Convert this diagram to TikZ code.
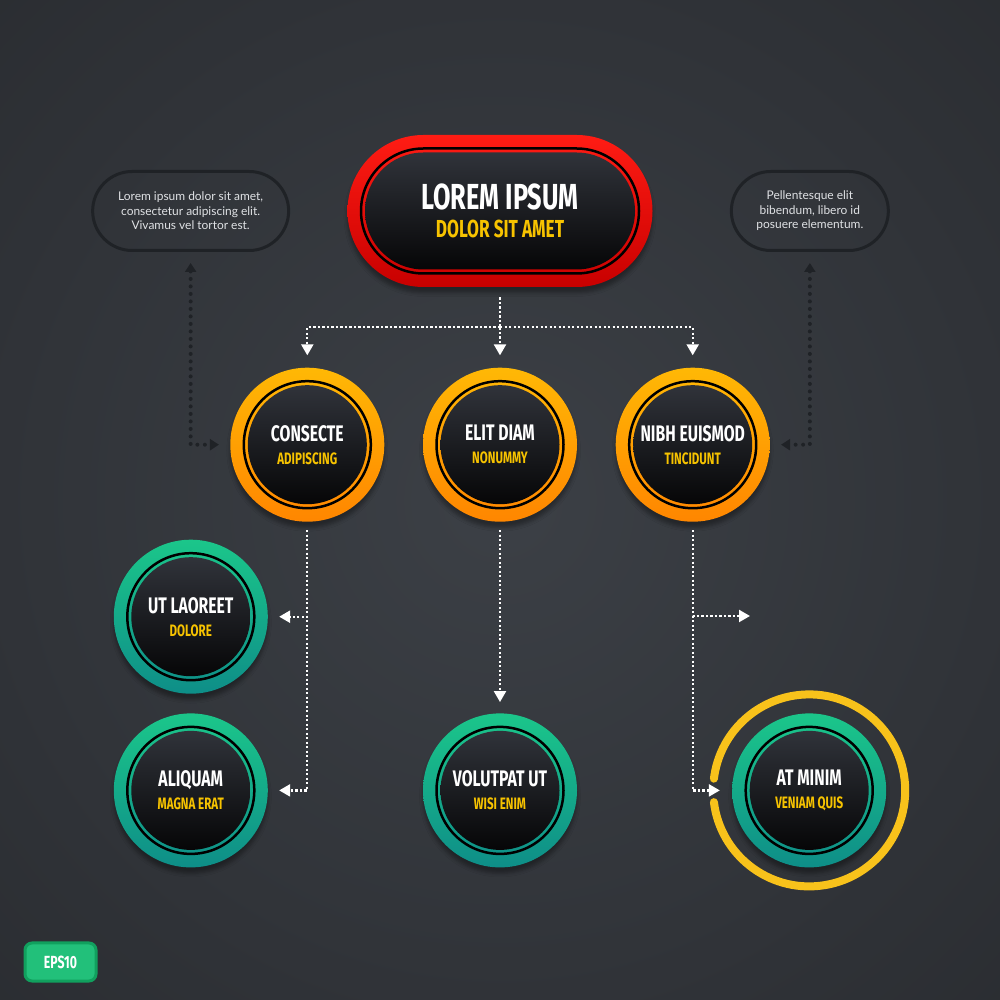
\documentclass[tikz,border=0pt]{standalone}
\usepackage{fontspec}
\setmainfont{Lato}
\newfontfamily\capsfont[FakeStretch=0.7]{Fira Sans}
\usetikzlibrary{positioning,arrows.meta,shadows.blur}

\definecolor{bgin}{HTML}{3C4046}
\definecolor{bgout}{HTML}{24262A}
\definecolor{redtop}{HTML}{FF1C14}
\definecolor{redbot}{HTML}{C80000}
\definecolor{orangetop}{HTML}{FFB805}
\definecolor{orangebot}{HTML}{FF8600}
\definecolor{greentop}{HTML}{1BC68A}
\definecolor{greenbot}{HTML}{0E8E88}
\definecolor{coretop}{HTML}{30333A}
\definecolor{corebot}{HTML}{060607}
\definecolor{gold}{HTML}{F7C300}
\definecolor{ringgold}{HTML}{F8C21B}
\definecolor{notetext}{HTML}{E0E2E5}
\definecolor{noteline}{HTML}{1F2226}
\definecolor{epsgreen}{HTML}{22C07A}
\definecolor{epsedge}{HTML}{11A05E}

\pgfdeclareradialshading{backdrop}{\pgfpoint{0bp}{0bp}}{color(0bp)=(bgin); color(50bp)=(bgout)}

\newcommand{\tagline}[1]{{\color{gold}\fontsize{9.4}{13.1}\selectfont #1}}

\begin{document}
\begin{tikzpicture}[
    chief node/.style={rectangle, rounded corners=15.2mm, minimum width=61mm,
        minimum height=30.4mm, inner sep=0pt, top color=redtop, bottom color=redbot,
        text=white, align=center, font=\capsfont\bfseries\fontsize{20.6}{16}\selectfont,
        blur shadow={shadow xshift=0mm, shadow yshift=-1.2mm, shadow opacity=35},
        path picture={
          \draw[line width=0.5mm, rounded corners=12.5mm]
            ([shift={(2.7mm,2.7mm)}]path picture bounding box.south west) rectangle
            ([shift={(-2.7mm,-2.7mm)}]path picture bounding box.north east);
          \shade[top color=coretop, bottom color=corebot, rounded corners=11.7mm]
            ([shift={(3.5mm,3.5mm)}]path picture bounding box.south west) rectangle
            ([shift={(-3.5mm,-3.5mm)}]path picture bounding box.north east);
        }},
    disc/.style 2 args={circle, minimum size=30.8mm, inner sep=0pt,
        top color=#1, bottom color=#2, text=white, align=center,
        font=\capsfont\bfseries\fontsize{12.8}{13.1}\selectfont,
        blur shadow={shadow xshift=0mm, shadow yshift=-1.2mm, shadow opacity=35},
        path picture={
          \draw[line width=0.5mm] (path picture bounding box.center) circle (12.7mm);
          \shade[top color=coretop, bottom color=corebot]
            (path picture bounding box.center) circle (11.9mm);
        }},
    team node/.style={disc={orangetop}{orangebot}},
    unit node/.style={disc={greentop}{greenbot}},
    note/.style={rectangle, rounded corners=7.9mm, draw=noteline, line width=0.6mm,
        minimum width=39.2mm, minimum height=15.8mm, inner sep=0pt, text=notetext,
        align=center, font=\fontsize{6.8}{8.3}\selectfont},
    badge/.style={rectangle, rounded corners=1.4mm, minimum width=14.2mm,
        minimum height=7.6mm, fill=epsgreen, draw=epsedge, line width=0.6mm,
        text=white, font=\capsfont\bfseries\fontsize{10}{10}\selectfont},
    wire/.style={white, line width=0.45mm, dash pattern=on 0.45mm off 0.45mm,
        -{Triangle[length=2.2mm, width=2.4mm]}},
    hint/.style={noteline, line width=0.8mm, line cap=round, dash pattern=on 0mm off 1.5mm,
        {Triangle[length=1.8mm, width=2.2mm]}-{Triangle[length=1.8mm, width=2.2mm]}},
    gold ring/.style={draw=ringgold, line width=1.6mm, line cap=round}
    ]

    \useasboundingbox (0,0) rectangle (20,20);
    \shade[shading=backdrop] (0,0) rectangle (20,20);

    \node [chief node] (boss) at (10,15.78)
        {LOREM IPSUM\\{\color{gold}\fontsize{14}{16}\selectfont DOLOR SIT AMET}};
    \node [note] (note left) [left=1.14cm of boss]
        {Lorem ipsum dolor sit amet,\\consectetur adipiscing elit.\\Vivamus vel tortor est.};
    \node [note, minimum width=31.4mm] (note right) [right=1.54cm of boss]
        {Pellentesque elit\\bibendum, libero id\\posuere elementum.};

    \node [team node] (elit) [below=1.6cm of boss] {ELIT DIAM\\\tagline{NONUMMY}};
    \node [team node] (consecte) [left=0.76cm of elit] {CONSECTE\\\tagline{ADIPISCING}};
    \node [team node] (nibh) [right=0.76cm of elit] {NIBH EUISMOD\\\tagline{TINCIDUNT}};

    \node [unit node] (volutpat) [below=3.82cm of elit] {VOLUTPAT UT\\\tagline{WISI ENIM}};
    \node [unit node] (aliquam) [left=3.09cm of volutpat] {ALIQUAM\\\tagline{MAGNA ERAT}};
    \node [unit node] (laoreet) [above=0.38cm of aliquam] {UT LAOREET\\\tagline{DOLORE}};
    \node [unit node] (minim) [right=3.09cm of volutpat] {AT MINIM\\\tagline{VENIAM QUIS}};

    \draw [gold ring] ([shift={(187:19.2mm)}]minim.center)
        arc [start angle=187, end angle=533, radius=19.2mm];

    \node [badge] (eps) at (1.21,0.76) {EPS10};

    % connectors
    \coordinate (split) at ([yshift=-8mm]boss.south);
    \coordinate (loose) at (15.0,7.68);
    \draw [wire, -] ([yshift=-2mm]boss.south) -- (split);
    \draw [wire] (split) -| ([yshift=2.4mm]consecte.north);
    \draw [wire] (split) -- ([yshift=2.4mm]elit.north);
    \draw [wire] (split) -| ([yshift=2.4mm]nibh.north);
    \draw [wire] ([yshift=-1.6mm]consecte.south) |- ([xshift=2.2mm]laoreet.east);
    \draw [wire] ([yshift=-1.6mm]consecte.south) |- ([xshift=2.2mm]aliquam.east);
    \draw [wire] ([yshift=-1.6mm]elit.south) -- ([yshift=2.2mm]volutpat.north);
    \draw [wire] ([yshift=-1.6mm]nibh.south) |- (loose);
    \draw [wire] ([yshift=-1.6mm]nibh.south) |- ([xshift=-2.4mm]minim.west);
    \draw [hint] ([yshift=-2.2mm]note left.south) |- ([xshift=-2.2mm]consecte.west);
    \draw [hint] ([yshift=-2.2mm]note right.south) |- ([xshift=2.2mm]nibh.east);

\end{tikzpicture}
\end{document}
